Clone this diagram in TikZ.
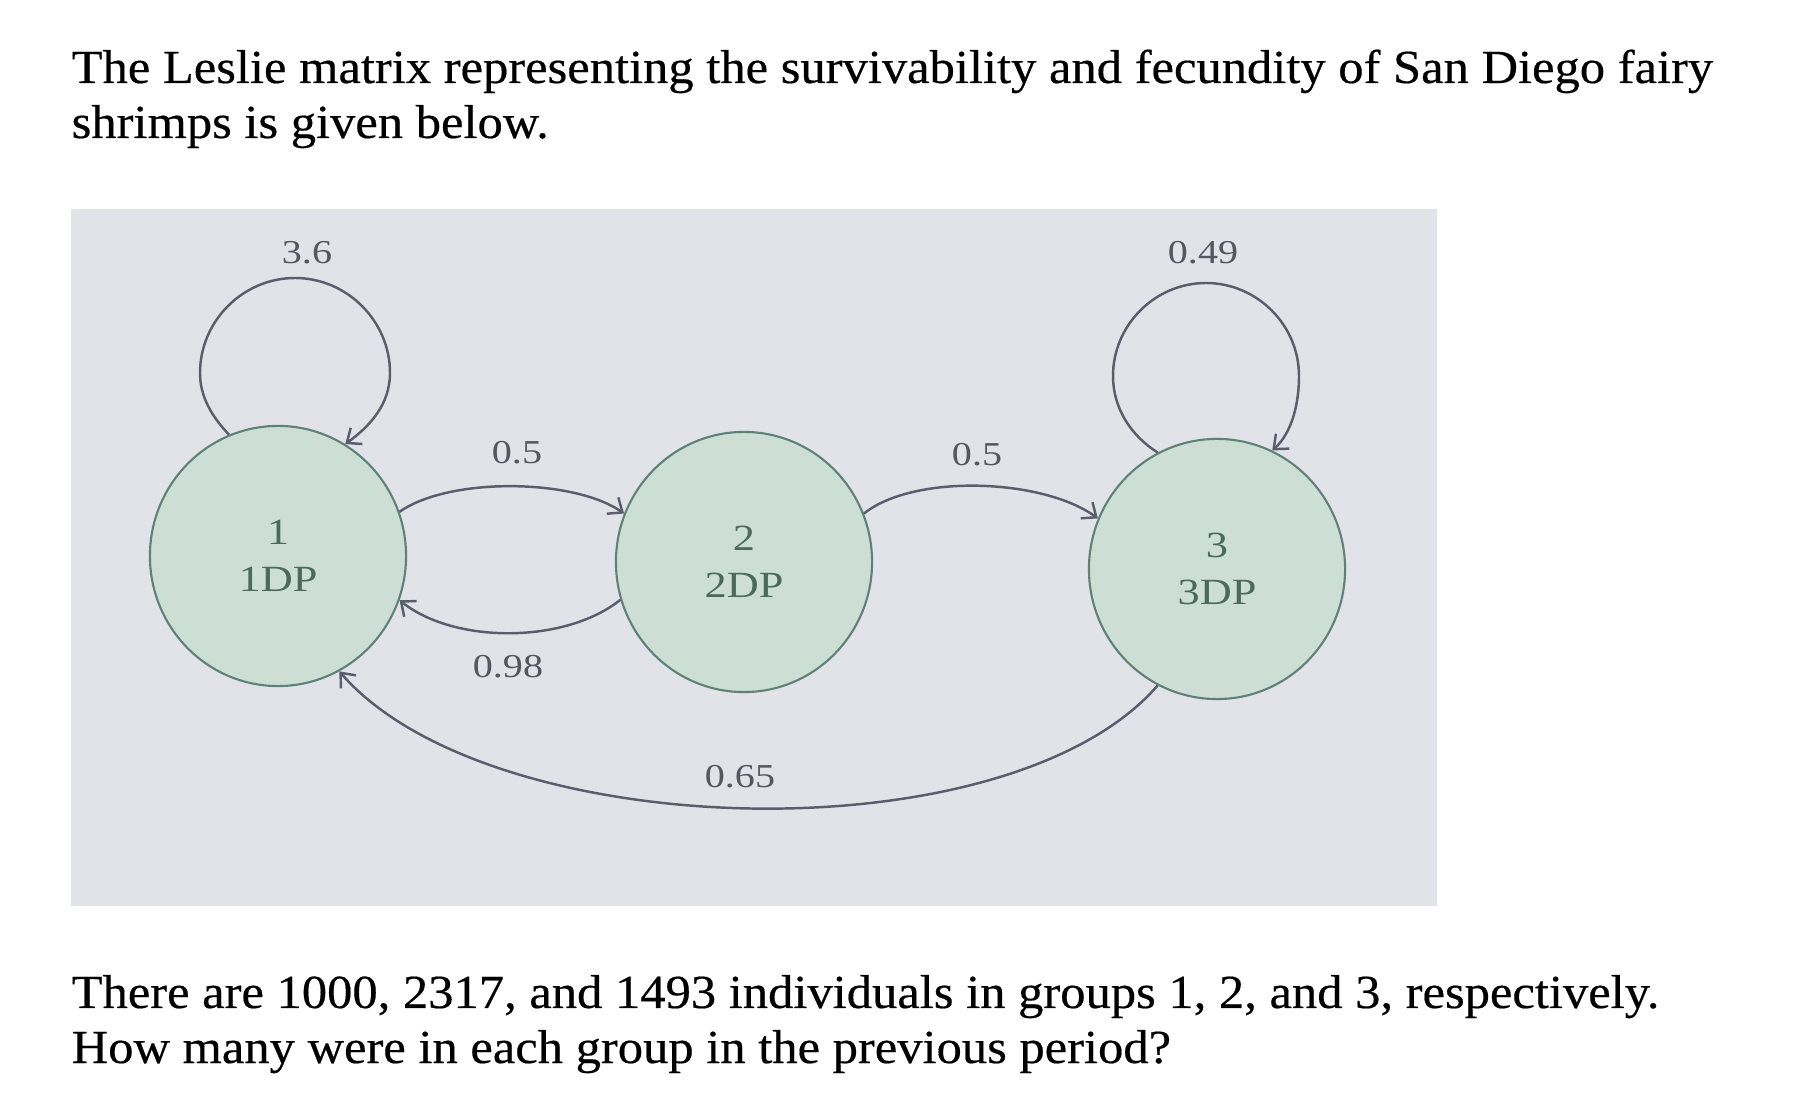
\documentclass[tikz,border=0pt]{standalone}
\usepackage{fontspec}
\setmainfont{Liberation Serif}
\newfontfamily\parafont[FakeStretch=1.065,FakeBold=0.4]{Liberation Serif}
\newfontfamily\diagfont[FakeStretch=1.2]{Liberation Serif}
\usetikzlibrary{arrows.meta,shapes.geometric}
\definecolor{photobg}{HTML}{E2E2E9}
\definecolor{nodefill}{HTML}{CDDFD4}
\definecolor{nodeline}{HTML}{5F8277}
\definecolor{edgecol}{HTML}{5A5E6C}
\definecolor{labcol}{HTML}{55565E}
\definecolor{nodetext}{HTML}{4A6A5C}
\begin{document}
\begin{tikzpicture}[x=0.01cm,y=-0.01cm,
  stage/.style={ellipse, draw=nodeline, line width=0.6pt, fill=nodefill,
    minimum width=2.56cm, minimum height=2.6cm, inner sep=0pt, align=center,
    font=\diagfont\fontsize{10.5}{13.5}\selectfont, text=nodetext},
  trans/.style={draw=edgecol, line width=0.7pt, -{Straight Barb[length=1.2mm,width=2mm]}},
  wlab/.style={font=\diagfont\fontsize{9.5}{10}\selectfont, text=labcol, inner sep=0pt},
  para/.style={anchor=base west, inner sep=0pt, font=\parafont\fontsize{13.5}{16}\selectfont}]
\useasboundingbox (0,0) rectangle (1800,1098);
\fill[white] (0,0) rectangle (1800,1098);
\fill[photobg] (71,209) rectangle (1437,906);

\node[para] (t1) at (71,83) {The Leslie matrix representing the survivability and fecundity of San Diego fairy};
\node[para] (t2) at (71,138) {shrimps is given below.};
\node[para] (q1) at (71,1008) {There are 1000, 2317, and 1493 individuals in groups 1, 2, and 3, respectively.};
\node[para] (q2) at (71,1063) {How many were in each group in the previous period?};

\node[stage] (n1) at (278,556) {1\\1DP};
\node[stage] (n2) at (744,562) {2\\2DP};
\node[stage] (n3) at (1217,569) {3\\3DP};

% self-loop way points
\coordinate (lp1l) at (200,373);
\coordinate (lp1t) at (295,278);
\coordinate (lp1r) at (390,373);
\coordinate (lp3l) at (1113,376);
\coordinate (lp3t) at (1206,283);
\coordinate (lp3r) at (1299,376);

\draw[trans] (n1.112) .. controls +(-17,-18) and +(0,24) .. (lp1l)
  .. controls +(0,-52) and +(-52,0) .. (lp1t)
  .. controls +(52,0) and +(0,-52) .. (lp1r)
  .. controls +(0,31) and +(25,-18) .. (n1.59);
\draw[trans] (n3.117) .. controls +(-27,-17) and +(0,32) .. (lp3l)
  .. controls +(0,-51) and +(-51,0) .. (lp3t)
  .. controls +(51,0) and +(0,-51) .. (lp3r)
  .. controls +(0,27) and +(20,-18) .. (n3.65);
\draw[trans] (n1.20) .. controls +(50,-35) and +(-50,-35) .. (n2.158);
\draw[trans] (n2.197) .. controls +(-55,44) and +(55,44) .. (n1.340);
\draw[trans] (n2.22) .. controls +(50,-40) and +(-55,-40) .. (n3.157);
\draw[trans] (n3.243) .. controls +(-150,173) and +(150,173) .. (n1.298);

\node[wlab] (l36) at (307,253) {3.6};
\node[wlab] (l49) at (1203,253) {0.49};
\node[wlab] (l12) at (517,453) {0.5};
\node[wlab] (l23) at (977,455) {0.5};
\node[wlab] (l21) at (508,667) {0.98};
\node[wlab] (l31) at (740,777) {0.65};
\end{tikzpicture}
\end{document}
